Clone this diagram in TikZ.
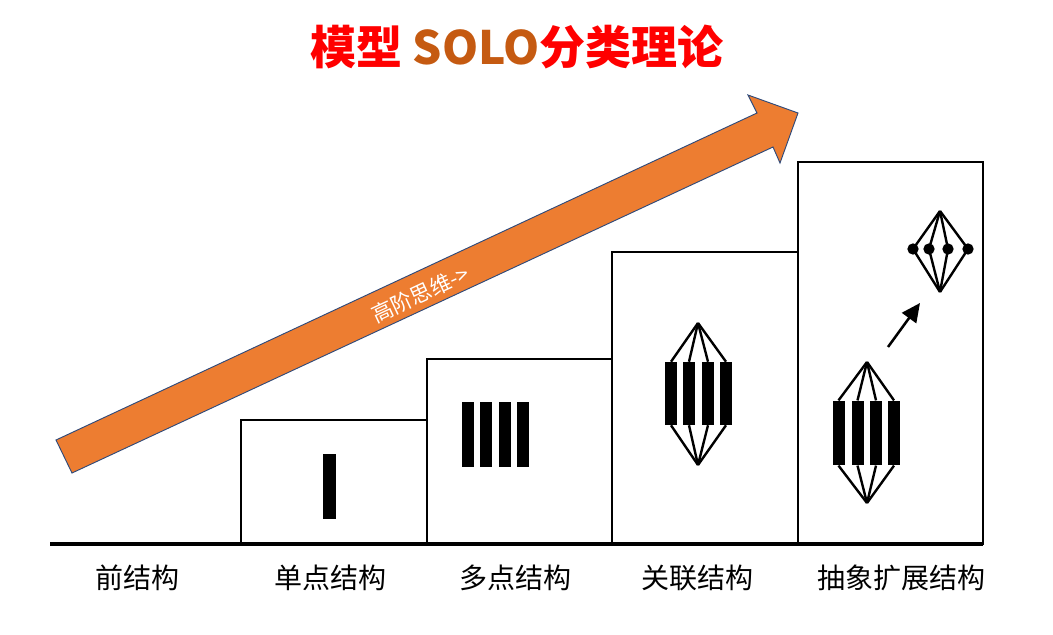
\documentclass[tikz,border=0pt]{standalone}
\usepackage{fontspec}
\newfontfamily\cjk{Noto Sans CJK SC}
\usetikzlibrary{arrows.meta}
\tikzstyle{stage}=[line width=2.2pt]
\tikzstyle{bar}=[fill=black, inner sep=0pt, minimum width=9pt, minimum height=48.5pt]
\tikzstyle{link}=[line width=1.8pt]
\tikzstyle{dot}=[circle, fill=black, inner sep=0pt, minimum size=8.5pt]
\tikzstyle{stagelabel}=[font=\cjk\fontsize{21}{24}\selectfont]
\definecolor{arroworange}{RGB}{237,125,49}
\definecolor{arrowedge}{RGB}{47,74,122}
\definecolor{titlered}{RGB}{255,0,0}
\definecolor{titlebrown}{RGB}{197,90,17}

\begin{document}
\begin{tikzpicture}[x=0.75pt, y=-0.75pt]
    \useasboundingbox (0,0) rectangle (1053,635);

    \node (title) at (517,47)
        {\cjk\bfseries\fontsize{34.5}{40}\selectfont\textcolor{titlered}{模型} \textcolor{titlebrown}{SOLO}\textcolor{titlered}{分类理论}};

    % rising arrow
    \draw[fill=arroworange, draw=arrowedge, line width=0.7pt]
        (56,440) -- (757,113) -- (748,95) -- (798,113)
        -- (780,163) -- (773,147) -- (72,473) -- cycle;
    \node[rotate=25, text=white, font=\cjk\fontsize{16}{18}\selectfont] (higher) at (420,294) {高阶思维->};

    % ground and stages
    \coordinate (g0) at (50,544);
    \coordinate (g1) at (983,544);
    \draw[line width=2.6pt] (g0) -- (g1);
    \draw[stage] (241,544) rectangle (427,420);
    \draw[stage] (427,544) rectangle (612,359);
    \draw[stage] (612,544) rectangle (798,252);
    \draw[stage] (798,544) rectangle (983,162);

    % unistructural
    \node[bar, minimum width=9.75pt] (uni) at (329.5,486.5) {};

    % multistructural
    \node[bar] (multi1) at (467.5,434.5) {};
    \node[bar] (multi2) at (486,434.5) {};
    \node[bar] (multi3) at (504.5,434.5) {};
    \node[bar] (multi4) at (522.5,434.5) {};

    % relational
    \coordinate (reltop) at (698,323);
    \coordinate (relbot) at (698,465);
    \node[bar, minimum height=47.25pt] (rel1) at (671,393.5) {};
    \node[bar, minimum height=47.25pt] (rel2) at (689,393.5) {};
    \node[bar, minimum height=47.25pt] (rel3) at (708,393.5) {};
    \node[bar, minimum height=47.25pt] (rel4) at (726,393.5) {};
    \foreach \i in {1,...,4}
        \draw[link] (reltop) -- (rel\i.north) (rel\i.south) -- (relbot);

    % extended abstract
    \coordinate (abstop) at (867,362);
    \coordinate (absbot) at (867,503);
    \node[bar] (abs1) at (838.5,433) {};
    \node[bar] (abs2) at (857.5,433) {};
    \node[bar] (abs3) at (876,433) {};
    \node[bar] (abs4) at (894,433) {};
    \foreach \i in {1,...,4}
        \draw[link] (abstop) -- (abs\i.north) (abs\i.south) -- (absbot);

    \coordinate (exttop) at (940,211);
    \coordinate (extbot) at (940,292);
    \node[dot] (ext1) at (913,249) {};
    \node[dot] (ext2) at (929,249) {};
    \node[dot] (ext3) at (948,249) {};
    \node[dot] (ext4) at (968,249) {};
    \foreach \i in {1,...,4}
        \draw[link] (exttop) -- (ext\i.center) -- (extbot);

    \coordinate (step0) at (888,347);
    \coordinate (step1) at (920,303);
    \draw[line width=1.9pt, -{Triangle[length=14pt, width=13pt]}] (step0) -- (step1);

    % labels
    \node[stagelabel] (prelabel) at (137,578) {前结构};
    \node[stagelabel] (unilabel) at (330,578) {单点结构};
    \node[stagelabel] (multilabel) at (515,578) {多点结构};
    \node[stagelabel] (rellabel) at (697,578) {关联结构};
    \node[stagelabel] (abslabel) at (901,578) {抽象扩展结构};
\end{tikzpicture}
\end{document}
